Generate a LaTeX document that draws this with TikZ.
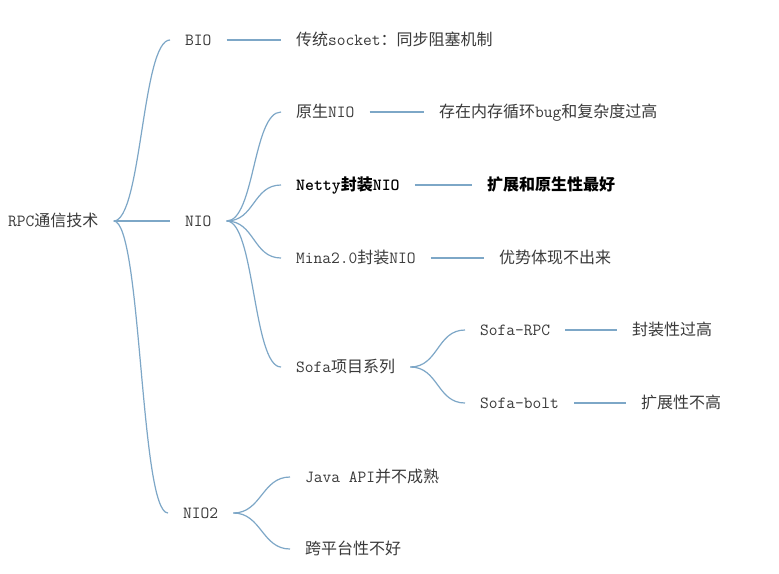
\documentclass[tikz,border=0pt]{standalone}
\usepackage{fontspec}
\newfontfamily\cjk{Noto Sans CJK SC}
\newcommand{\zh}[1]{{\cjk\fontsize{16}{19}\selectfont #1}}
\definecolor{linkblue}{HTML}{7DA7C7}
\definecolor{txtgray}{HTML}{3A3A3A}

\begin{document}
\begin{tikzpicture}[x=1pt,y=-1pt,
  topic/.style={anchor=west,inner xsep=15pt,inner ysep=0pt,text height=13pt,text depth=3pt,
    text=txtgray,font=\ttfamily\fontsize{17}{19}\selectfont},
  keytopic/.style={topic,text=black,font=\ttfamily\bfseries\fontsize{17}{19}\selectfont},
  branch/.style={draw=linkblue,line width=1.2pt,
    to path={.. controls +(28,0) and +(-28,0) .. (\tikztotarget)}},
  link/.style={draw=linkblue,line width=1.2pt}]
  \fill[white] (0,0) rectangle (779,573);
  \useasboundingbox (0,0) rectangle (779,573);

  \node[topic] (rpc) at (-7,221) {RPC\zh{通信技术}};

  \node[topic] (bio) at (170,40) {BIO};
  \node[topic] (nio) at (170,221) {NIO};
  \node[topic] (nio2) at (168,513) {NIO2};

  \node[topic] (bioleaf) at (281,40) {\zh{传统}socket\zh{：同步阻塞机制}};

  \node[topic] (raw) at (281,112) {\zh{原生}NIO};
  \node[keytopic] (netty) at (281,185) {Netty\zh{封装}NIO};
  \node[topic] (mina) at (281,258) {Mina2.0\zh{封装}NIO};
  \node[topic] (sofa) at (281,367) {Sofa\zh{项目系列}};

  \node[topic] (rawleaf) at (424,112) {\zh{存在内存循环}bug\zh{和复杂度过高}};
  \node[keytopic] (nettyleaf) at (472,185) {\zh{扩展和原生性最好}};
  \node[topic] (minaleaf) at (484,258) {\zh{优势体现不出来}};

  \node[topic] (sofarpc) at (465,330) {Sofa-RPC};
  \node[topic] (sofabolt) at (465,403) {Sofa-bolt};
  \node[topic] (rpcleaf) at (617,330) {\zh{封装性过高}};
  \node[topic] (boltleaf) at (626,403) {\zh{扩展性不高}};

  \node[topic] (java) at (290,477) {Java API\zh{并不成熟}};
  \node[topic] (cross) at (290,549) {\zh{跨平台性不好}};

  \draw[branch] (rpc.east) to (bio.west);
  \draw[link] (rpc.east) -- (nio.west);
  \draw[branch] (rpc.east) to (nio2.west);

  \draw[link] (bio.east) -- (bioleaf.west);

  \draw[branch] (nio.east) to (raw.west);
  \draw[branch] (nio.east) to (netty.west);
  \draw[branch] (nio.east) to (mina.west);
  \draw[branch] (nio.east) to (sofa.west);

  \draw[link] (raw.east) -- (rawleaf.west);
  \draw[link] (netty.east) -- (nettyleaf.west);
  \draw[link] (mina.east) -- (minaleaf.west);

  \draw[branch] (sofa.east) to (sofarpc.west);
  \draw[branch] (sofa.east) to (sofabolt.west);
  \draw[link] (sofarpc.east) -- (rpcleaf.west);
  \draw[link] (sofabolt.east) -- (boltleaf.west);

  \draw[branch] (nio2.east) to (java.west);
  \draw[branch] (nio2.east) to (cross.west);
\end{tikzpicture}
\end{document}
